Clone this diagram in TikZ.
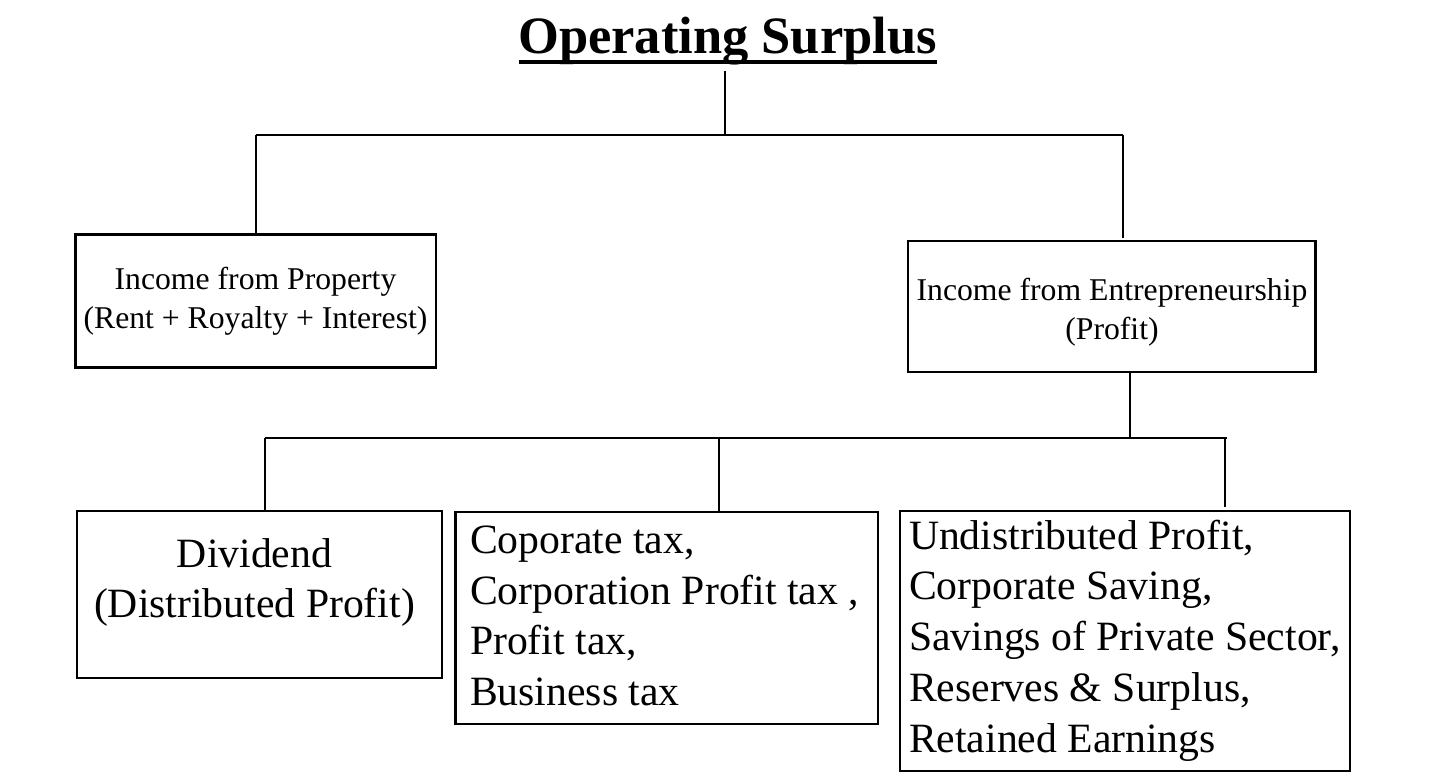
\documentclass[tikz,border=0pt]{standalone}
\usepackage{fontspec}
\setmainfont{Liberation Serif}
\newcommand\tcell[2]{\begin{tabular}[t]{@{}#1@{}}#2\end{tabular}}
\tikzset{
  box/.style={draw=black, line width=2.2pt, rectangle, inner sep=0pt},
  txt/.style={inner sep=0pt, outer sep=0pt},
  conn/.style={draw=black, line width=2pt},
  smalltxt/.style={txt, font=\fontsize{31.7}{38.3}\selectfont},
  bigtxt/.style={txt, font=\fontsize{41.7}{50.7}\selectfont},
}
\begin{document}
\begin{tikzpicture}[x=1pt, y=-1pt]
\useasboundingbox[fill=white] (0,0) rectangle (1444,783);

% title
\node[txt, font=\fontsize{52.5}{60}\selectfont\bfseries, anchor=base] (title) at (727.5,53.5) {Operating Surplus};
\coordinate (ulA) at (519,62);
\coordinate (ulB) at (937,62);
\draw[line width=4pt] (ulA) -- (ulB);

% boxes
\node[box, minimum width=360.5pt, minimum height=133pt] (b1) at (255.75,301) {};
\node[box, minimum width=407.5pt, minimum height=131pt] (b2) at (1111.75,306.5) {};
\node[box, minimum width=365pt, minimum height=167pt] (b3) at (259.5,594.5) {};
\node[box, minimum width=422.5pt, minimum height=212pt] (b4) at (666.75,618) {};
\node[box, minimum width=450pt, minimum height=260pt] (b5) at (1125,641) {};

% texts
\node[smalltxt, anchor=base] (t1) at (255.5,290) {\tcell{c}{Income from Property\\(Rent + Royalty + Interest)}};
\node[smalltxt, anchor=base] (t2) at (1112,301) {\tcell{c}{Income from Entrepreneurship\\(Profit)}};
\node[bigtxt, anchor=base] (t3) at (254.5,567) {\tcell{c}{Dividend\\(Distributed Profit)}};
\node[bigtxt, anchor=base west] (t4) at (470,553.3) {\tcell{l}{Coporate tax,\\Corporation Profit tax ,\\Profit tax,\\Business tax}};
\node[bigtxt, anchor=base west, font=\fontsize{41.7}{51}\selectfont] (t5) at (909,549) {\tcell{l}{Undistributed Profit,\\Corporate Saving,\\Savings of Private Sector,\\Reserves \& Surplus,\\Retained Earnings}};

% connector coordinates
\coordinate (os) at (725,71);
\coordinate (j1) at (725,135.5);
\coordinate (l1) at (256.4,135.5);
\coordinate (r1) at (1123.3,135.5);
\coordinate (r1e) at (1123.3,238.5);
\coordinate (p2) at (1129.5,437.7);
\coordinate (l2) at (265,437.7);
\coordinate (m2) at (718.5,437.7);
\coordinate (r2) at (1226.5,437.7);
\coordinate (r2v) at (1225,437.7);
\coordinate (r2e) at (1225,507);

\draw[conn] (os) -- (j1);
\draw[conn] (l1) -- (r1);
\draw[conn] (l1) -- (l1 |- b1.north);
\draw[conn] (r1) -- (r1e);
\draw[conn] (b2.south -| p2) -- (p2);
\draw[conn] (l2) -- (r2);
\draw[conn] (l2) -- (l2 |- b3.north);
\draw[conn] (m2) -- (m2 |- b4.north);
\draw[conn] (r2v) -- (r2e);
\end{tikzpicture}
\end{document}
